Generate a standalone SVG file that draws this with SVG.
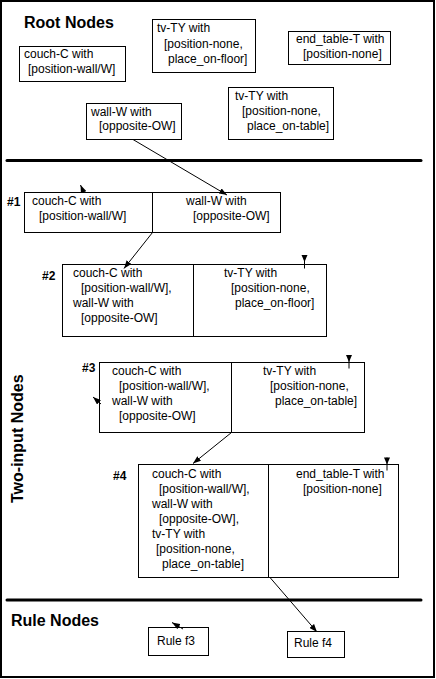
<svg xmlns="http://www.w3.org/2000/svg" width="436" height="679" viewBox="0 0 436 679">
<style>
  .box { fill: #fff; stroke: #000; stroke-width: 1; }
  .t { font-family: "Liberation Sans", Arial, sans-serif; font-size: 12px; fill: #000; }
  .lbl { font-family: "Liberation Sans", Arial, sans-serif; font-size: 12px; font-weight: bold; fill: #000; }
  .title { font-family: "Liberation Sans", Arial, sans-serif; font-size: 16px; font-weight: bold; fill: #000; }
  .sep { stroke: #000; stroke-width: 3; stroke-linecap: round; }
  .con { stroke: #000; stroke-width: 1; fill: none; marker-end: url(#ah); }
  .stub { stroke: #000; stroke-width: 1; fill: none; }
</style>
<defs>
  <marker id="ah" viewBox="0 0 8 6" refX="8" refY="3" markerWidth="8" markerHeight="6" markerUnits="userSpaceOnUse" orient="auto">
    <path d="M0,0 L8,3 L0,6 z" fill="#000"/>
  </marker>
</defs>
<rect x="0" y="0" width="436" height="679" fill="#fff"/>
<rect x="1" y="1" width="433" height="676" fill="none" stroke="#000" stroke-width="2"/>

<g id="titles">
  <text class="title" x="24" y="28">Root Nodes</text>
  <text class="title" x="11" y="625.5">Rule Nodes</text>
  <text class="title" transform="translate(23,503) rotate(-90)">Two-input Nodes</text>
</g>
<g id="separators">
  <line class="sep" x1="7" y1="160.5" x2="421" y2="160.5"/>
  <line class="sep" x1="7" y1="600" x2="421" y2="600"/>
</g>

<g id="root-couch">
  <rect class="box" x="19.5" y="46.5" width="106" height="35"/>
  <text class="t" x="24" y="58">couch-C with</text>
  <text class="t" x="28" y="73">[position-wall/W]</text>
</g>
<g id="root-tv-floor">
  <rect class="box" x="152.5" y="19.5" width="103" height="53"/>
  <text class="t" x="157" y="32">tv-TY with</text>
  <text class="t" x="164" y="47.5">[position-none,</text>
  <text class="t" x="168" y="63">place_on-floor]</text>
</g>
<g id="root-end-table">
  <rect class="box" x="288.5" y="31.5" width="102" height="33"/>
  <text class="t" x="296" y="42.5">end_table-T with</text>
  <text class="t" x="303" y="57.5">[position-none]</text>
</g>
<g id="root-wall">
  <rect class="box" x="86.5" y="103.5" width="95" height="36"/>
  <text class="t" x="91" y="115.5">wall-W with</text>
  <text class="t" x="99" y="130">[opposite-OW]</text>
</g>
<g id="root-tv-table">
  <rect class="box" x="228.5" y="87.5" width="105" height="52"/>
  <text class="t" x="235" y="100">tv-TY with</text>
  <text class="t" x="242" y="115">[position-none,</text>
  <text class="t" x="247" y="130">place_on-table]</text>
</g>

<g id="node1">
  <text class="lbl" x="7" y="205.5">#1</text>
  <rect class="box" x="24.5" y="192.5" width="256" height="40"/>
  <line class="stub" x1="152.5" y1="192.5" x2="152.5" y2="232.5"/>
  <text class="t" x="32" y="205">couch-C with</text>
  <text class="t" x="39" y="220">[position-wall/W]</text>
  <text class="t" x="186" y="205">wall-W with</text>
  <text class="t" x="193" y="220">[opposite-OW]</text>
</g>
<g id="node2">
  <text class="lbl" x="42" y="279.5">#2</text>
  <rect class="box" x="62.5" y="264.5" width="264" height="72"/>
  <line class="stub" x1="193.5" y1="264.5" x2="193.5" y2="336.5"/>
  <text class="t" x="73" y="277">couch-C with</text>
  <text class="t" x="81" y="292">[position-wall/W],</text>
  <text class="t" x="73" y="307">wall-W with</text>
  <text class="t" x="81" y="322">[opposite-OW]</text>
  <text class="t" x="224" y="277">tv-TY with</text>
  <text class="t" x="231" y="292">[position-none,</text>
  <text class="t" x="235" y="307">place_on-floor]</text>
</g>
<g id="node3">
  <text class="lbl" x="82" y="371.5">#3</text>
  <rect class="box" x="99.5" y="362.5" width="265" height="70"/>
  <line class="stub" x1="231.5" y1="362.5" x2="231.5" y2="432.5"/>
  <text class="t" x="112" y="375">couch-C with</text>
  <text class="t" x="119" y="390">[position-wall/W],</text>
  <text class="t" x="112" y="405">wall-W with</text>
  <text class="t" x="119" y="420">[opposite-OW]</text>
  <text class="t" x="263" y="375">tv-TY with</text>
  <text class="t" x="270" y="390">[position-none,</text>
  <text class="t" x="275" y="405">place_on-table]</text>
</g>
<g id="node4">
  <text class="lbl" x="113" y="479.5">#4</text>
  <rect class="box" x="138.5" y="464.5" width="260" height="113"/>
  <line class="stub" x1="268.5" y1="464.5" x2="268.5" y2="577.5"/>
  <text class="t" x="152" y="477.5">couch-C with</text>
  <text class="t" x="159" y="492.5">[position-wall/W],</text>
  <text class="t" x="152" y="507.5">wall-W with</text>
  <text class="t" x="159" y="522.5">[opposite-OW],</text>
  <text class="t" x="152" y="537.5">tv-TY with</text>
  <text class="t" x="156" y="552.5">[position-none,</text>
  <text class="t" x="162" y="567.5">place_on-table]</text>
  <text class="t" x="296" y="477.5">end_table-T with</text>
  <text class="t" x="303" y="492.5">[position-none]</text>
</g>
<g id="rule-f3">
  <rect class="box" x="148.5" y="627.5" width="60" height="28"/>
  <text class="t" x="157" y="645">Rule f3</text>
</g>
<g id="rule-f4">
  <rect class="box" x="287.5" y="631.5" width="57" height="26"/>
  <text class="t" x="294" y="647">Rule f4</text>
</g>

<g id="connectors">
  <line class="con" x1="133" y1="139.5" x2="227" y2="195"/>
  <line class="con" x1="152.5" y1="232.5" x2="124" y2="268.5"/>
  <line class="con" x1="231.5" y1="432.5" x2="193" y2="463.5"/>
  <line class="con" x1="270" y1="577.5" x2="317" y2="632"/>
  <line class="con" x1="84" y1="193" x2="80.5" y2="185"/>
  <line class="con" x1="101" y1="404" x2="93" y2="397"/>
  <line class="con" x1="183" y1="629" x2="172" y2="622.5"/>
  <line class="stub" x1="304.5" y1="255" x2="304.5" y2="268.5"/>
  <path d="M301.5,255 L307.5,255 L304.5,262 z" fill="#000"/>
  <line class="stub" x1="349" y1="355" x2="349" y2="368.5"/>
  <path d="M346,355 L352,355 L349,362 z" fill="#000"/>
  <line class="stub" x1="387" y1="457.5" x2="387" y2="470.5"/>
  <path d="M384,457.5 L390,457.5 L387,464.5 z" fill="#000"/>
</g>
</svg>
